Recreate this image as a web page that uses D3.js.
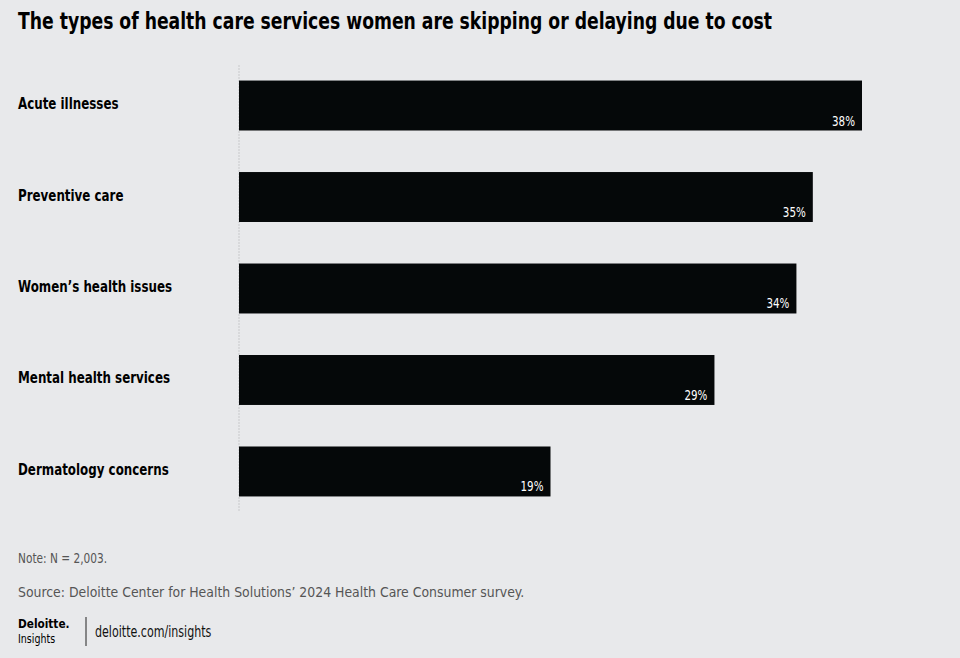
<!DOCTYPE html>
<html>
<head>
<meta charset="utf-8">
<script src="https://cdn.jsdelivr.net/npm/d3@7"></script>
<style>
  body { margin: 0; background: #e8e9eb; }
  svg { display: block; }
  .cond { font-family: "DejaVu Sans Condensed", "Roboto", sans-serif; font-stretch: condensed; }
</style>
</head>
<body>
<div id="viz"></div>
<script>
const categories = ["Acute illnesses", "Preventive care", "Women’s health issues", "Mental health services", "Dermatology concerns"];
const values = [38, 35, 34, 29, 19];
const valueLabels = ["38%", "35%", "34%", "29%", "19%"];

const W = 960, H = 658;
const svg = d3.select("#viz").append("svg")
  .attr("width", W)
  .attr("height", H)
  .style("background", "#e8e9eb");

// squeeze text horizontally to mimic the narrow house font
function narrow(sel, factor) {
  sel.each(function () {
    const w = this.getComputedTextLength();
    d3.select(this)
      .attr("textLength", w * factor)
      .attr("lengthAdjust", "spacingAndGlyphs");
  });
}

svg.append("text")
  .attr("class", "cond")
  .attr("x", 18)
  .attr("y", 29)
  .style("font-size", "23px")
  .style("font-weight", "bold")
  .attr("fill", "#000")
  .text("The types of health care services women are skipping or delaying due to cost")
  .call(narrow, 0.832);

const x = d3.scaleLinear().domain([0, 38]).range([239, 862]);
const y = d3.scaleBand().domain(categories).range([65, 512]).paddingInner(0.454).paddingOuter(0.17);

// axis baseline (dotted)
svg.append("line")
  .attr("x1", x(0)).attr("x2", x(0))
  .attr("y1", y.range()[0]).attr("y2", y.range()[1])
  .attr("stroke", "#c8c9cb")
  .attr("stroke-width", 1)
  .attr("stroke-dasharray", "2,1");

svg.selectAll("rect.bar")
  .data(categories)
  .enter()
  .append("rect")
  .attr("class", "bar")
  .attr("x", x(0))
  .attr("y", d => y(d))
  .attr("width", (d, i) => x(values[i]) - x(0))
  .attr("height", y.bandwidth())
  .attr("fill", "#050809");

svg.selectAll("text.cat")
  .data(categories)
  .enter()
  .append("text")
  .attr("class", "cat cond")
  .attr("x", 18)
  .attr("y", d => y(d) + y.bandwidth() / 2 - 1)
  .attr("dominant-baseline", "middle")
  .style("font-size", "15px")
  .style("font-weight", "bold")
  .attr("fill", "#000")
  .text(d => d)
  .call(narrow, 0.88);

svg.selectAll("text.val")
  .data(categories)
  .enter()
  .append("text")
  .attr("class", "val cond")
  .attr("x", (d, i) => x(values[i]) - 7)
  .attr("y", d => y(d) + y.bandwidth() - 5)
  .attr("text-anchor", "end")
  .style("font-size", "14px")
  .attr("fill", "#fff")
  .text((d, i) => valueLabels[i])
  .call(narrow, 0.82);

// footer
svg.append("text")
  .attr("class", "cond")
  .attr("x", 18).attr("y", 563)
  .style("font-size", "14px")
  .attr("fill", "#555")
  .text("Note: N = 2,003.")
  .call(narrow, 0.84);

svg.append("text")
  .attr("class", "cond")
  .attr("x", 18).attr("y", 597)
  .style("font-size", "14px")
  .attr("fill", "#555")
  .text("Source: Deloitte Center for Health Solutions’ 2024 Health Care Consumer survey.")
  .call(narrow, 0.99);

svg.append("text")
  .attr("class", "cond")
  .attr("x", 18).attr("y", 628)
  .style("font-size", "13px")
  .style("font-weight", "bold")
  .attr("fill", "#000")
  .text("Deloitte.")
  .call(narrow, 0.9);

svg.append("text")
  .attr("class", "cond")
  .attr("x", 18).attr("y", 643)
  .style("font-size", "12px")
  .attr("fill", "#000")
  .text("Insights")
  .call(narrow, 0.88);

svg.append("line")
  .attr("x1", 86).attr("x2", 86)
  .attr("y1", 617).attr("y2", 646)
  .attr("stroke", "#222")
  .attr("stroke-width", 1);

svg.append("text")
  .attr("class", "cond")
  .attr("x", 95).attr("y", 637)
  .style("font-size", "16px")
  .attr("fill", "#111")
  .text("deloitte.com/insights")
  .call(narrow, 0.77);
</script>
</body>
</html>
